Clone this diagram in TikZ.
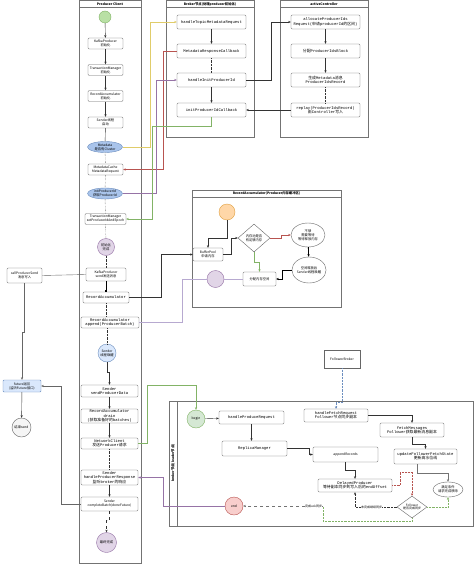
\documentclass[tikz,border=0pt]{standalone}
\usepackage{fontspec}
\setmainfont{Noto Sans CJK SC}
\newfontfamily\mn{Liberation Mono}
\usetikzlibrary{shapes.geometric,arrows.meta,calc}
\newcommand\zh[1]{{\normalfont #1}}
\definecolor{gnD}{HTML}{82B366}\definecolor{gnF}{HTML}{B9E0A5}\definecolor{gnL}{HTML}{D5E8D4}
\definecolor{blD}{HTML}{6C8EBF}\definecolor{blF}{HTML}{A9C4EB}\definecolor{blL}{HTML}{DAE8FC}
\definecolor{puD}{HTML}{9673A6}\definecolor{puF}{HTML}{E1D5E7}
\definecolor{orD}{HTML}{E0A040}\definecolor{orF}{HTML}{FFD7A8}
\definecolor{rdD}{HTML}{B85450}\definecolor{rdF}{HTML}{F8CECC}
\definecolor{ylw}{HTML}{E0CC6A}\definecolor{lpu}{HTML}{B7A9D0}
\begin{document}
\begin{tikzpicture}[x=1pt,y=-1pt,
 every node/.style={font=\fontsize{3.3}{4}\selectfont, inner sep=0.3pt, align=center},
 bx/.style={draw=black!60, rounded corners=1.2pt, fill=white, line width=0.35pt},
 mono/.style={font=\mn\fontsize{3.9}{4.4}\selectfont},
 lane/.style={draw=black!55, line width=0.4pt},
 arr/.style={-{Stealth[length=2.6pt,width=2.2pt]}},
 ln/.style={draw=black!80, line width=0.4pt},
 dt/.style={densely dotted},
 hdr/.style={font=\bfseries\fontsize{3.3}{4}\selectfont},
 lbl/.style={fill=white, inner sep=0.2pt, font=\fontsize{3}{3.5}\selectfont}]
\useasboundingbox (0,0) rectangle (474,564);
\fill[white] (0,0) rectangle (474,564);
% lanes
\draw[lane] (79,0.5) rectangle (141,563.5); \draw[lane] (79,7.5) -- (141,7.5);
\node[hdr] (hpc) at (110,4) {Producer Client};
\draw[lane] (166,0.5) rectangle (254,137); \draw[lane] (166,7.5) -- (254,7.5);
\node[hdr] (hbk) at (210,4) {Broker节点(处理producer初始化)};
\draw[lane] (280,0.5) rectangle (368,137); \draw[lane] (280,7.5) -- (368,7.5);
\node[hdr] (hac) at (324,4) {activeController};
\draw[lane] (192,190) rectangle (341,307); \draw[lane] (192,197) -- (341,197);
\node[hdr] (hra) at (266.5,193.5) {RecordAccumulator(Producer内存缓冲区)};
\draw[lane] (169,401) rectangle (473,526); \draw[lane] (177,401) -- (177,526);
\node[hdr,rotate=90] (hbl) at (173,463) {broker节点(leader节点)};
% producer client
\node[circle,draw=gnD,fill=gnF,minimum size=12pt,inner sep=0] (pstart) at (105,17) {};
\node[bx,minimum width=35pt,minimum height=11pt] (kp) at (105.5,43.5) {KafkaProducer\\初始化};
\node[bx,minimum width=35pt,minimum height=11pt] (tm) at (105.5,70) {TransactionManager\\初始化};
\node[bx,minimum width=35pt,minimum height=11pt] (ra) at (105.5,96) {RecordAccumulator\\初始化};
\node[bx,minimum width=35pt,minimum height=11pt] (sd) at (105.5,122.5) {Sender线程\\启动};
\node[ellipse,draw=blD,fill=blF,minimum width=35pt,minimum height=11pt,inner sep=0] (md) at (105,147) {Metadata\\是否有Cluster};
\node[bx,minimum width=35pt,minimum height=11pt] (mc) at (105.5,169.5) {MetadataCache\\MetadataRequest};
\node[ellipse,draw=blD,fill=blF,minimum width=35pt,minimum height=11pt,inner sep=0] (ip) at (105,193.5) {initProducerId\\获取ProducerId};
\node[bx,minimum width=41pt,minimum height=11pt] (te) at (105.5,219) {TransactionManager\\setProducerIdAndEpoch};
\node[circle,draw=puD,fill=puF,minimum size=17pt,inner sep=0] (ic) at (106,247) {初始化\\完成};
\node[bx,minimum width=40pt,minimum height=13pt] (ks) at (106,274.5) {KafkaProducer\\send发送消息};
\node[bx,mono,minimum width=46pt,minimum height=11pt] (rac) at (106,297.5) {RecordAccumulator};
\node[bx,mono,minimum width=58pt,minimum height=11pt] (rap) at (110,322.5) {RecordAccumulator\\append(ProducerBatch)};
\node[circle,draw=blD,fill=blL,minimum size=18pt,inner sep=0] (sw) at (107,353) {Sender\\线程唤醒};
\node[bx,mono,minimum width=57pt,minimum height=12pt] (sp) at (109.5,391) {Sender\\sendProducerData};
\node[bx,mono,minimum width=57pt,minimum height=14pt] (dr) at (109.5,416) {RecordAccumulator\\drain\\(\zh{获取准备好的}batches)};
\node[bx,mono,minimum width=57pt,minimum height=11pt] (nc) at (109.5,443.5) {NetworkClient\\\zh{发送}Producer\zh{请求}};
\node[bx,mono,minimum width=57pt,minimum height=15pt] (hr) at (109.5,477.5) {Sender\\handleProducerResponse\\\zh{监听}broker\zh{的响应}};
\node[bx,minimum width=57pt,minimum height=14pt] (cb) at (109.5,504) {Sender\\completeBatch(doneFuture)};
\node[circle,draw=puD,fill=puF,minimum size=20pt,inner sep=0] (fin) at (106.5,542.5) {最终完成};
% left
\node[bx,minimum width=35pt,minimum height=15pt] (cps) at (24.5,275.5) {callProducerSend\\消息写入};
\node[draw=blD,fill=blL,rounded corners=1pt,minimum width=38pt,minimum height=12pt] (fut) at (22,386) {future返回\\(监听Future接口)};
\node[circle,draw=black!60,fill=black!4,minimum size=19pt,inner sep=0] (es) at (21.5,427.5) {结束send};
% broker init
\node[bx,mono,minimum width=69pt,minimum height=14pt] (bt) at (211.5,22) {handleTopicMetadataRequest};
\node[bx,mono,minimum width=69pt,minimum height=14pt] (bm) at (211.5,51) {MetadataResponseCallback};
\node[bx,mono,minimum width=69pt,minimum height=14pt] (bh) at (211.5,80) {handleInitProducerId};
\node[bx,mono,minimum width=69pt,minimum height=14pt] (bi) at (211.5,110) {initProducerIdCallback};
% controller
\node[bx,mono,minimum width=69pt,minimum height=14pt] (ca) at (325.5,22) {allocateProducerIds\\Request(\zh{申请}producerId\zh{的区间})};
\node[bx,mono,minimum width=69pt,minimum height=14pt] (cb2) at (325.5,51) {\zh{分配}ProducerIdsBlock};
\node[bx,mono,minimum width=69pt,minimum height=14pt] (cg) at (325.5,80) {\zh{生成}Metadata\zh{消息}\\ProducerIdsRecord};
\node[bx,mono,minimum width=69pt,minimum height=14pt] (cr) at (325.5,110) {replay(ProducerIdsRecord)\\\zh{由}Controller\zh{写入}};
% record accumulator
\node[circle,draw=orD,fill=orF,minimum size=16pt,inner sep=0] (oc) at (227,212) {};
\node[bx,minimum width=30pt,minimum height=13pt] (bp) at (208,254.5) {BufferPool\\申请内存};
\node[diamond,draw=black!60,fill=white,minimum width=32pt,minimum height=28pt,inner sep=0] (dm) at (254,238) {内存池是否\\有足够内存};
\node[ellipse,draw=black!60,fill=white,minimum width=34pt,minimum height=24pt,inner sep=0] (e1) at (308,235) {不够\\需要等待\\等待释放内存};
\node[ellipse,draw=black!60,fill=white,minimum width=34pt,minimum height=26pt,inner sep=0] (e2) at (309,270) {空间释放后\\Sender线程唤醒};
\node[bx,minimum width=33pt,minimum height=14pt] (al) at (259.5,279) {分配内存空间};
\node[circle,draw=puD,fill=puF,minimum size=17pt,inner sep=0] (pc) at (215.5,279) {};
% follower
\node[draw=black!60,fill=white,minimum width=36pt,minimum height=18pt] (fb) at (342,359) {FollowerBroker};
% broker leader
\node[circle,draw=gnD,fill=gnL,minimum size=18pt,inner sep=0] (bg) at (196,419) {begin};
\node[bx,mono,minimum width=65pt,minimum height=13pt] (hp) at (251.5,417.5) {handleProduceRequest};
\node[bx,mono,minimum width=65pt,minimum height=15pt] (rm) at (254.5,448.5) {ReplicaManager};
\node[circle,draw=rdD,fill=rdF,minimum size=18pt,inner sep=0] (en) at (234,506) {end};
\node[bx,mono,minimum width=64pt,minimum height=13pt] (hf) at (336,415.5) {handleFetchRequest\\Follower\zh{节点同步副本}};
\node[bx,mono,minimum width=64pt,minimum height=14pt] (fm) at (412,430) {fetchMessages\\Follower\zh{获取最新消息副本}};
\node[bx,minimum width=65pt,minimum height=15pt] (ar) at (345.5,454.5) {appendRecords};
\node[bx,mono,minimum width=63pt,minimum height=15pt] (uf) at (425.5,456.5) {updateFollowerFetchState\\\zh{更新高水位线}};
\node[bx,mono,minimum width=74pt,minimum height=13pt] (dp) at (355,485.5) {DelayedProducer\\\zh{等待副本同步到写入后的}endOffset};
\node[ellipse,draw=black!60,fill=white,minimum width=30pt,minimum height=15pt,inner sep=0] (el) at (448,489.5) {满足条件\\请求完成移除};
\node[diamond,aspect=1.5,draw=black!60,fill=white,minimum width=30pt,minimum height=22pt,inner sep=0,font=\fontsize{3}{3.6}\selectfont] (dd) at (412,507) {Follower\\是否完成同步};
% producer lane connectors
\draw[ln,arr] (pstart) -- (kp);
\draw[ln,arr] (kp) -- (tm);
\draw[ln,arr] (tm) -- (ra);
\draw[ln,arr] (ra) -- (sd);
\draw[ln] (sd) -- (md);
\draw[ln,dt] (md) -- (mc);
\draw[ln,dt] (mc) -- (ip);
\draw[ln,dt] (ip) -- (te);
\draw[ln,dt] (te) -- (ic);
\draw[ln,dt] (ic) -- (ks);
\draw[draw=black,line width=0.8pt,-{Square[length=2pt,width=2.4pt]}] (ks) -- (rac);
\draw[ln,dt] (rac) -- (rac |- rap.north);
\draw[ln,dt] (sw.north |- rap.south) -- (sw.north);
\draw[ln,arr] (sw.south) -- ++(0,10) -| (sp.north);
\draw[ln,arr] (sp) -- (dr);
\draw[ln,arr] (dr) -- (nc);
\draw[ln,dt] (nc) -- (hr);
\draw[ln,arr] (hr) -- (cb);
\draw[ln,dashed,arr] (cb.south) -- ++(0,9) -| (fin.north);
% left connectors
\draw[draw=black!60,line width=0.4pt] (ks.west) -- (cps.east);
\draw[draw=black!60,line width=0.4pt,arr] (cps.south) -- ++(0,49) -| (fut.north);
\draw[ln,arr] (fut) -- (es);
\draw[draw=black!60,line width=0.4pt,arr] (cb.west) -| ([xshift=20pt]fut.east) -- (fut.east);
% cross connectors (initialisation)
\draw[draw=ylw,line width=0.45pt,arr] (md.east) -| ([xshift=-27pt]bt.west) -- (bt.west);
\draw[draw=rdD,line width=0.45pt,arr] (bm.west) -| ([xshift=40pt]mc.east) -- (mc.east);
\draw[draw=puD,line width=0.45pt,arr] (ip.east) -| ([xshift=-21pt]bh.west) -- (bh.west);
\draw[draw=gnD,line width=0.45pt,arr] (bi.south) -- ++(0,9) -| ([xshift=26pt]te.east) -- (te.east);
\draw[ln,arr] (bh.east) -| ([xshift=-20pt]ca.west) -- (ca.west);
\draw[ln,arr] (cr.west) -- (bi.east);
\draw[ln,arr] (bt) -- (bm);
\draw[ln,dt] (bm) -- (bh);
\draw[ln,arr] (bh) -- (bi);
\draw[ln,arr] (ca) -- (cb2);
\draw[ln,arr] (cb2) -- (cg);
\draw[ln,dt] (cg) -- (cr);
% record accumulator connectors
\draw[ln,arr] (rac.east) -| ([xshift=-32pt]bp.west) -- (bp.west);
\draw[ln,arr] (oc.south) -- ++(0,18) -| (bp.north);
\draw[ln,arr] (bp.east) -- ++(8,0) |- (dm.west);
\draw[draw=rdD,line width=0.45pt,arr] (dm.east) -- ++(11,0) |- (e1.west);
\draw[draw=black,line width=0.8pt,arr] (e1) -- (e2);
\draw[draw=black,line width=0.8pt,arr] (e2.west) -- ++(-9,0) |- (al.east);
\draw[draw=gnD,line width=0.45pt,arr] (dm.south) -- ++(0,10) -| (al.north);
\draw[draw=lpu,line width=0.45pt] (al.west) -- (pc.east);
\draw[draw=lpu,line width=0.45pt] (pc.west) -| ([xshift=43pt]rap.east) -- (rap.east);
% send to broker
\draw[draw=gnD,line width=0.45pt,arr] (nc.east) -- ++(9,0) |- ([yshift=25pt]bg.north) -- (bg.north);
\draw[draw=puD,line width=0.45pt,arr] (en.west) -| ([xshift=25pt]hr.east) -- (hr.east);
% broker leader connectors
\draw[ln,arr] (bg) -- (hp);
\draw[ln,arr] (hp.south) -- (hp.south |- rm.north);
\draw[ln,arr] (rm.east) -- ++(22,0) |- (ar.west);
\draw[ln,arr] (ar.south) -- ++(0,8.5) -| (dp.north);
\draw[ln,arr] (hf.east) -| (fm.north);
\draw[ln,arr] (fm.south) -- ++(0,7) -| (uf.north);
\draw[draw=black!55,line width=0.4pt,arr] ([xshift=-8pt]uf.south) -- ++(0,9) -| (el.north);
\draw[draw=rdD,line width=0.45pt,dt,arr] (dp.east) -- ++(8,0) -- ++(0,-13.5) -| (dd.north);
\draw[ln,dt,arr] (dd.west) -| node[lbl,pos=0.3] {未完成继续同步} (dp.south);
\draw[draw=gnD,line width=0.45pt,dt,arr] (dd.east) -| (el.south);
\draw[draw=gnD,line width=0.45pt,dt] (dd.south) -- ++(0,3) -| ([xshift=80pt]en.east);
\draw[draw=black!55,line width=0.4pt,dashed,arr] ([xshift=80pt]en.east) -- node[lbl,pos=0.12] {完成ack同步} (en.east);
\draw[draw=blD,line width=0.45pt,dt,arr] (fb.south) -- ++(0,34) -| (hf.north);
\end{tikzpicture}
\end{document}
